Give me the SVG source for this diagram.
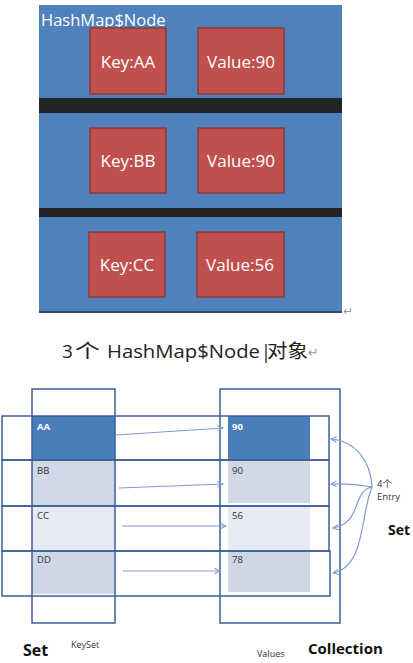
<svg xmlns="http://www.w3.org/2000/svg" width="413" height="663" viewBox="0 0 413 663">
<defs>
<style>
.t{font-family:"Open Sans","Noto Sans",sans-serif}
.cap{font-family:"Open Sans","Noto Sans CJK SC",sans-serif;font-size:19px;fill:#222}
.wt{fill:#ffffff;font-size:17px;text-anchor:middle}
.red{fill:#c0504d;stroke:#8e3a38;stroke-width:1.5}
.row{fill:none;stroke:#3b5f96;stroke-width:1.5}
.col{fill:none;stroke:#3b5f96;stroke-width:1.5}
.cl{font-size:9.5px;fill:#333}
.conn{fill:none;stroke:#7f9ccc;stroke-width:1.2;marker-end:url(#ah)}
</style>
<marker id="ah" viewBox="0 0 10 10" refX="9" refY="5" markerWidth="7" markerHeight="7" orient="auto" markerUnits="userSpaceOnUse">
<path d="M1,1 L9,5 L1,9" fill="none" stroke="#7f9ccc" stroke-width="1.5"/>
</marker>
</defs>
<rect width="413" height="663" fill="#ffffff"/>

<g id="hashmap-panel">
<rect x="39" y="5" width="303" height="308" fill="#4f81bd"/>
<line x1="39" y1="312" x2="342" y2="312" stroke="#2c4a70" stroke-width="2"/>
<rect x="39" y="98" width="303" height="15" fill="#222426"/>
<rect x="39" y="208" width="303" height="9" fill="#222426"/>
<text class="t" x="41" y="26" font-size="16.5" fill="#ffffff">HashMap$Node</text>
</g>
<g id="node1">
<rect class="red" x="90" y="28" width="76" height="66"/>
<text class="t wt" x="128" y="68">Key:AA</text>
<rect class="red" x="198" y="28" width="86" height="66"/>
<text class="t wt" x="241" y="68">Value:90</text>
</g>
<g id="node2">
<rect class="red" x="90" y="128" width="76" height="65"/>
<text class="t wt" x="128" y="167">Key:BB</text>
<rect class="red" x="198" y="128" width="86" height="65"/>
<text class="t wt" x="241" y="167">Value:90</text>
</g>
<g id="node3">
<rect class="red" x="89" y="232" width="76" height="65"/>
<text class="t wt" x="127" y="271">Key:CC</text>
<rect class="red" x="197" y="232" width="87" height="65"/>
<text class="t wt" x="240" y="271">Value:56</text>
</g>
<text x="343" y="315" font-family="DejaVu Sans,sans-serif" font-size="12" fill="#999">↵</text>

<g id="caption">
<text class="cap" x="62" y="358">3</text>
<text class="cap" x="75" y="358" textLength="25" lengthAdjust="spacingAndGlyphs">个</text>
<text class="cap" x="107" y="358" textLength="153" lengthAdjust="spacingAndGlyphs">HashMap$Node</text>
<text class="cap" x="267" y="358" textLength="41" lengthAdjust="spacingAndGlyphs">对象</text>
<text x="308" y="357" font-family="DejaVu Sans,sans-serif" font-size="13" fill="#999">↵</text>
<line x1="266" y1="344" x2="266" y2="363" stroke="#111" stroke-width="1.2"/>
</g>

<g id="cells">
<rect x="32" y="416" width="83" height="44" fill="#4a7ebb"/>
<rect x="32" y="460" width="83" height="46" fill="#d0d7e6"/>
<rect x="32" y="506" width="83" height="45" fill="#e6eaf3"/>
<rect x="32" y="551" width="83" height="43" fill="#cfd6e6"/>
<rect x="228" y="416" width="82" height="44" fill="#4a7ebb"/>
<rect x="228" y="460" width="82" height="43" fill="#d0d7e6"/>
<rect x="228" y="506" width="82" height="45" fill="#e6eaf3"/>
<rect x="228" y="551" width="82" height="41" fill="#cfd6e6"/>
</g>

<g id="rows">
<rect class="row" x="2" y="416" width="327" height="44"/>
<rect class="row" x="2" y="460" width="327" height="46"/>
<rect class="row" x="2" y="506" width="327" height="45"/>
<rect class="row" x="2" y="551" width="328" height="45"/>
</g>

<g id="keyset">
<rect class="col" x="32" y="389" width="83" height="234"/>
<text class="t cl" x="37" y="430" font-weight="bold" style="fill:#fff">AA</text>
<text class="t cl" x="37" y="474">BB</text>
<text class="t cl" x="37" y="519">CC</text>
<text class="t cl" x="37" y="563">DD</text>
</g>

<g id="values">
<rect class="col" x="220" y="389" width="120" height="234"/>
<text class="t cl" x="232" y="430" font-weight="bold" style="fill:#fff">90</text>
<text class="t cl" x="232" y="474">90</text>
<text class="t cl" x="232" y="519">56</text>
<text class="t cl" x="232" y="563">78</text>
</g>

<g id="connectors">
<path class="conn" d="M116,435 L223,428"/>
<path class="conn" d="M119,488 L223,484"/>
<path class="conn" d="M122,526 L226,526"/>
<path class="conn" d="M123,571 L220,571"/>
<path class="conn" d="M372,487 C371,462 356,441 331,439"/>
<path class="conn" d="M372,487 Q352,483 331,484"/>
<path class="conn" d="M372,487 C352,490 362,524 333,528"/>
<path class="conn" d="M372,487 C360,515 366,566 333,573"/>
</g>

<g id="labels">
<text x="377" y="487" font-family="'Open Sans','Noto Sans CJK SC',sans-serif" font-size="9.5" fill="#333">4个</text>
<text class="t" x="377" y="500" font-size="9.5" fill="#333">Entry</text>
<text class="t" x="388" y="535" font-size="14" font-weight="bold" fill="#111">Set</text>
<text class="t" x="23" y="656" font-size="16" font-weight="bold" fill="#111">Set</text>
<text class="t" x="71" y="648" font-size="9" fill="#333">KeySet</text>
<text class="t" x="257" y="657" font-size="9" fill="#333">Values</text>
<text class="t" x="308" y="654" font-size="15" font-weight="bold" fill="#111">Collection</text>
</g>
</svg>
